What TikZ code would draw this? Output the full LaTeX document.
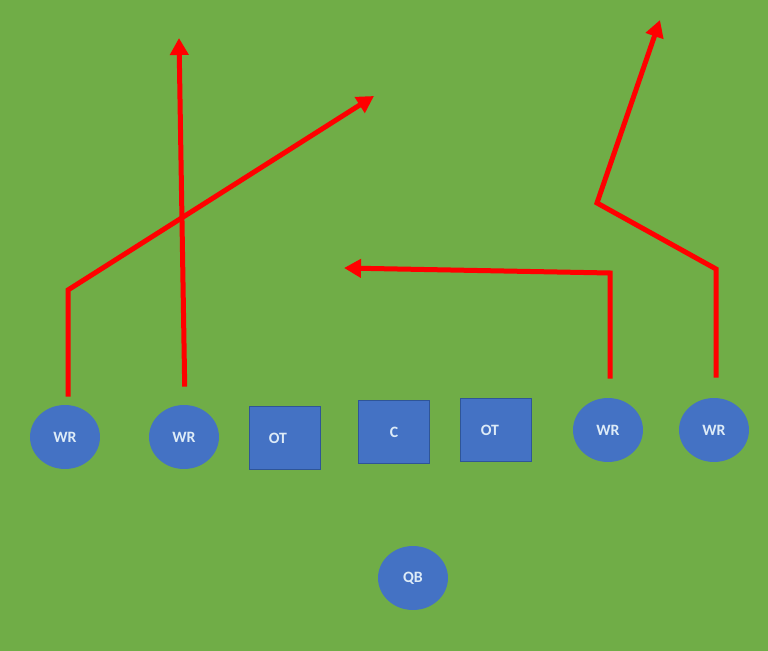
\documentclass[tikz,border=0pt]{standalone}
\usepackage{fontspec}
\setmainfont{Carlito}
\usetikzlibrary{arrows.meta,shapes.geometric}
\definecolor{field}{HTML}{70AD47}
\definecolor{player}{HTML}{4472C4}
\definecolor{lineman}{HTML}{2F5597}
\definecolor{tag}{HTML}{DDEBF7}
\tikzset{
  recv/.style={ellipse, fill=player, minimum width=1.4cm, minimum height=1.28cm, inner sep=0pt, text=tag, font=\small\bfseries},
  blk/.style={rectangle, fill=player, draw=lineman, line width=0.8pt, minimum width=1.42cm, minimum height=1.26cm, inner sep=0pt, text=tag, font=\small\bfseries},
  route/.style={red, line width=0.1cm, line join=miter, -{Triangle[length=0.34cm, width=0.36cm]}}
}
\begin{document}
\begin{tikzpicture}[x=0.02cm, y=-0.02cm]
  \fill[field] (0,0) rectangle (768,651);
  \useasboundingbox (0,0) rectangle (768,651);
  % offensive line
  \node[recv] (wrA) at (65,437) {WR};
  \node[recv] (wrB) at (184,437) {WR};
  \node[blk] (otA) at (285,438) {\hspace*{-8pt}OT};
  \node[blk] (ctr) at (394,432) {C};
  \node[blk] (otB) at (496,430) {\hspace*{-7pt}OT};
  \node[recv] (wrC) at (608,430) {WR};
  \node[recv] (wrD) at (714,430) {WR};
  \node[recv] (qb) at (413,578) {QB};
  % route points
  \coordinate (a1) at (68,290);
  \coordinate (a2) at (374,96);
  \coordinate (b1) at (179,38);
  \coordinate (c1) at (610,273);
  \coordinate (c2) at (344,268);
  \coordinate (d1) at (716,269);
  \coordinate (d2) at (597,203);
  \coordinate (d3) at (660,20);
  % routes
  \draw[route, shorten <=0.16cm] (wrA.north -| a1) -- (a1) -- (a2);
  \draw[route, shorten <=0.36cm] ([xshift=0.02cm]wrB.north) -- (b1);
  \draw[route, shorten <=0.38cm] (wrC.north -| c1) -- (c1) -- (c2);
  \draw[route, shorten <=0.4cm] (wrD.north -| d1) -- (d1) -- (d2) -- (d3);
\end{tikzpicture}
\end{document}
